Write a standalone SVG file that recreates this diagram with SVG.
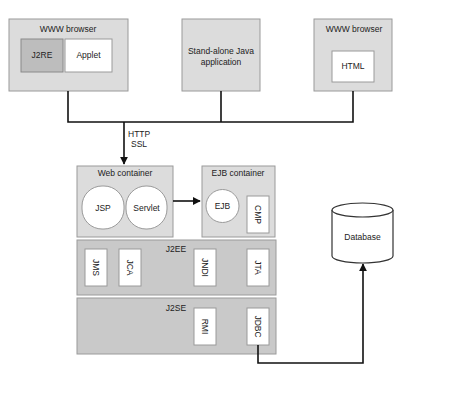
<svg xmlns="http://www.w3.org/2000/svg" width="474" height="418" viewBox="0 0 474 418">
<defs>
<style>
text{font-family:"Liberation Sans",Arial,sans-serif;font-size:8.5px;fill:#222;}
.c{text-anchor:middle;}
.outer{fill:#dcdcdc;stroke:#9a9a9a;stroke-width:1;}
.band{fill:#c9c9c9;stroke:#9a9a9a;stroke-width:1;}
.w{fill:#fff;stroke:#9a9a9a;stroke-width:1;}
.dk{fill:#bdbdbd;stroke:#8a8a8a;stroke-width:1;}
.ln{fill:none;stroke:#111;stroke-width:1.6;}
</style>
<marker id="ah" viewBox="0 0 10 10" refX="9" refY="5" markerWidth="5" markerHeight="5" orient="auto"><path d="M0,0 L10,5 L0,10 z" fill="#111"/></marker>
</defs>
<rect width="474" height="418" fill="#fff"/>
<g id="browser1">
<rect class="outer" x="9" y="19" width="119" height="72"/>
<text class="c" x="68" y="32">WWW browser</text>
<rect class="dk" x="21" y="39" width="42" height="33"/>
<text class="c" x="42" y="58">J2RE</text>
<rect class="w" x="65" y="39" width="47" height="33"/>
<text class="c" x="88.5" y="58">Applet</text>
</g>
<g id="standalone">
<rect class="outer" x="182" y="19" width="78" height="72"/>
<text class="c" x="221" y="54">Stand-alone Java</text>
<text class="c" x="221" y="65">application</text>
</g>
<g id="browser2">
<rect class="outer" x="314" y="19" width="78" height="72"/>
<text class="c" x="354" y="32">WWW browser</text>
<rect class="w" x="332" y="51" width="42" height="31"/>
<text class="c" x="353" y="69">HTML</text>
</g>
<g id="webcontainer">
<rect class="outer" x="77" y="166" width="96" height="71"/>
<text class="c" x="125" y="176">Web container</text>
<rect class="w" x="82" y="186" width="42" height="43" rx="20" ry="20"/>
<text class="c" x="103" y="211">JSP</text>
<rect class="w" x="126" y="186" width="41" height="43" rx="20" ry="20"/>
<text class="c" x="146.5" y="211">Servlet</text>
</g>
<g id="ejbcontainer">
<rect class="outer" x="202" y="166" width="73" height="71"/>
<text class="c" x="238" y="176">EJB container</text>
<circle class="w" cx="222.5" cy="206" r="16.5"/>
<text class="c" x="222.5" y="209">EJB</text>
<rect class="w" x="247" y="196" width="22" height="37"/>
<text class="c" transform="translate(258,214.5) rotate(90)" y="3">CMP</text>
</g>
<g id="j2ee">
<rect class="band" x="77" y="240" width="199" height="55"/>
<text class="c" x="176" y="252">J2EE</text>
<rect class="w" x="85" y="249" width="22" height="37"/>
<text class="c" transform="translate(96,267.5) rotate(90)" y="3">JMS</text>
<rect class="w" x="119" y="249" width="22" height="37"/>
<text class="c" transform="translate(130,267.5) rotate(90)" y="3">JCA</text>
<rect class="w" x="194" y="249" width="22" height="37"/>
<text class="c" transform="translate(205,267.5) rotate(90)" y="3">JNDI</text>
<rect class="w" x="247" y="249" width="22" height="37"/>
<text class="c" transform="translate(258,267.5) rotate(90)" y="3">JTA</text>
</g>
<g id="j2se">
<rect class="band" x="77" y="298" width="199" height="56"/>
<text class="c" x="176" y="311">J2SE</text>
<rect class="w" x="194" y="308" width="22" height="37"/>
<text class="c" transform="translate(205,326.5) rotate(90)" y="3">RMI</text>
<rect class="w" x="247" y="308" width="22" height="37"/>
<text class="c" transform="translate(258,326.5) rotate(90)" y="3">JDBC</text>
</g>
<g id="database">
<path d="M332,210 L332,256 A30.5,7 0 0 0 393,256 L393,210" fill="#fff" stroke="#333" stroke-width="1.2"/>
<ellipse cx="362.5" cy="210" rx="30.5" ry="7" fill="#fff" stroke="#333" stroke-width="1.2"/>
<text class="c" x="362.5" y="240">Database</text>
</g>
<g id="connectors">
<path class="ln" d="M68,91 V122 M221,91 V122 M353,91 V122 M67.2,122 H353.8"/>
<path class="ln" d="M124,122 V164" marker-end="url(#ah)"/>
<text x="128" y="137">HTTP</text>
<text x="131" y="147">SSL</text>
<path class="ln" d="M173,201 H200" marker-end="url(#ah)"/>
<path class="ln" d="M258,345 V363 H363 V264" marker-end="url(#ah)"/>
</g>
</svg>
